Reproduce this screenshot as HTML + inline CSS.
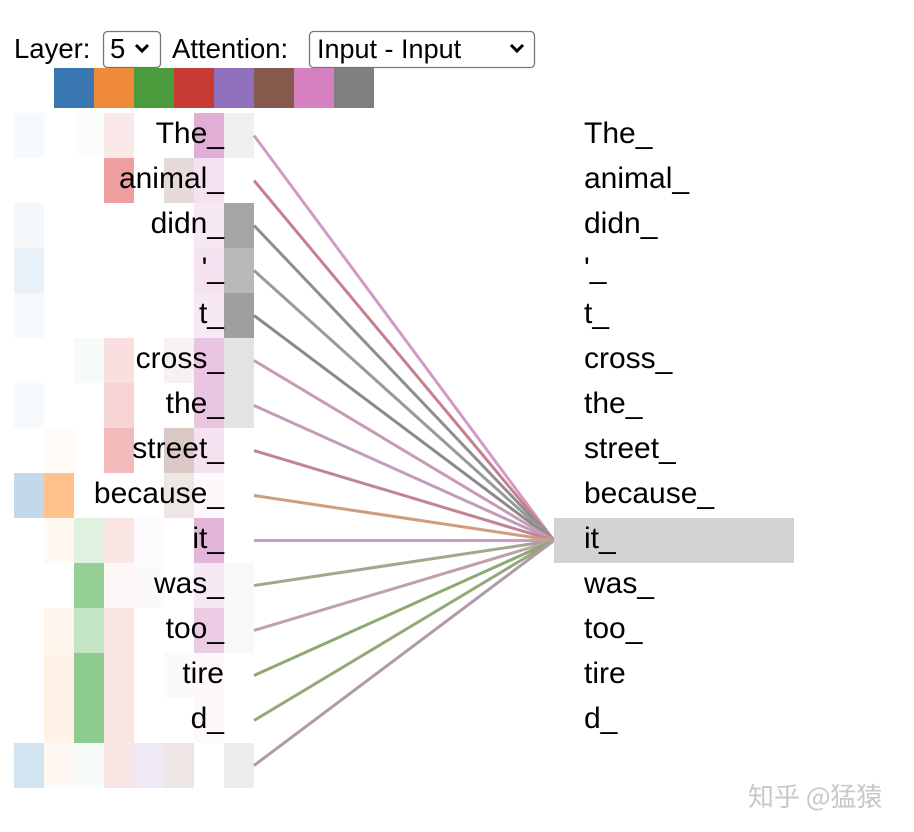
<!DOCTYPE html>
<html><head><meta charset="utf-8"><style>
body{margin:0;background:#fff;width:914px;height:832px;overflow:hidden}
svg{display:block}
text{font-family:"Liberation Sans",Arial,sans-serif;fill:#000}
</style></head><body>
<svg width="914" height="832" viewBox="0 0 914 832" xmlns="http://www.w3.org/2000/svg">
<text x="14" y="58" font-size="27.5">Layer:</text>
<rect x="103.5" y="31.5" width="57" height="36" rx="4" fill="#fff" stroke="#777" stroke-width="1.3"/>
<text x="110" y="58" font-size="27.5">5</text>
<polyline points="136,45 142,51 148,45" fill="none" stroke="#000" stroke-width="3"/>
<text x="172" y="58" font-size="27.5">Attention:</text>
<rect x="309.5" y="31.5" width="225" height="36" rx="4" fill="#fff" stroke="#777" stroke-width="1.3"/>
<text x="317" y="58" font-size="27">Input - Input</text>
<polyline points="511,45 517,51 523,45" fill="none" stroke="#000" stroke-width="3"/>
<g>
<rect x="54" y="68" width="40" height="40" fill="#3a76b0"/>
<rect x="94" y="68" width="40" height="40" fill="#ef8a38"/>
<rect x="134" y="68" width="40" height="40" fill="#4c9c3e"/>
<rect x="174" y="68" width="40" height="40" fill="#c83b33"/>
<rect x="214" y="68" width="40" height="40" fill="#9070bb"/>
<rect x="254" y="68" width="40" height="40" fill="#875a4e"/>
<rect x="294" y="68" width="40" height="40" fill="#d580c0"/>
<rect x="334" y="68" width="40" height="40" fill="#808080"/>
</g>
<g id="cells"></g>
<g id="lines" stroke-width="3" fill="none"></g>
<rect x="554" y="518" width="240" height="45" fill="#d3d3d3"/>
<g id="ltext" font-size="30" text-anchor="end"></g>
<g id="rtext" font-size="30"></g>
<text x="748" y="806" font-size="26" style="font-family:'Noto Sans CJK SC',sans-serif;fill:#c8c8c8">知乎 @猛猿</text>
</svg>
<script>
var cols=["31,119,180","255,127,14","44,160,44","214,39,40","148,103,189","140,86,75","200,110,180","127,127,127"];
var toks=["The_","animal_","didn_","'_","t_","cross_","the_","street_","because_","it_","was_","too_","tire","d_",""];
var A=[
{0:.04,2:.02,3:.1,6:.55,7:.12},
{3:.45,5:.22,6:.2},
{0:.05,6:.15,7:.7},
{0:.1,6:.2,7:.55},
{0:.04,6:.15,7:.75},
{2:.04,3:.15,5:.08,6:.4,7:.22},
{0:.04,3:.2,6:.4,7:.22},
{1:.03,3:.32,5:.32,6:.2},
{0:.28,1:.48,5:.15,6:.05},
{1:.05,2:.15,3:.12,4:.03,6:.5},
{2:.5,3:.04,4:.04,6:.15,7:.05},
{1:.08,2:.28,3:.12,6:.35,7:.05},
{1:.1,2:.55,3:.12,5:.03,6:.05},
{1:.1,2:.55,3:.12,6:.05},
{0:.2,1:.05,2:.03,3:.12,4:.15,5:.15,7:.15}];
var lc=["#d39ac6","#c7808f","#8e8e8e","#9a9a9a","#8a8a8a","#c89ab8","#c29cb8","#c08494","#cf9c7c","#d09ac0","#a0a890","#c0a0aa","#8ea874","#92a878","#b09aac"];
var s="";
A.forEach(function(r,i){for(var c in r){s+='<rect x="'+(14+30*c)+'" y="'+(113+45*i)+'" width="30" height="45" fill="rgba('+cols[c]+','+r[c]+')"/>';}});
document.getElementById('cells').innerHTML=s;
s="";
for(var i=0;i<15;i++){var y=135.5+45*i;s+='<line x1="254" y1="'+y+'" x2="554" y2="540.5" stroke="'+lc[i]+'"/>';}
document.getElementById('lines').innerHTML=s;
s="";var t="";
for(var i=0;i<15;i++){var y=143+45*i;if(toks[i]){s+='<text x="224" y="'+y+'">'+toks[i]+'</text>';if(i<14)t+='<text x="584" y="'+y+'">'+toks[i]+'</text>';}}
document.getElementById('ltext').innerHTML=s;
document.getElementById('rtext').innerHTML=t;
</script>
</body></html>
